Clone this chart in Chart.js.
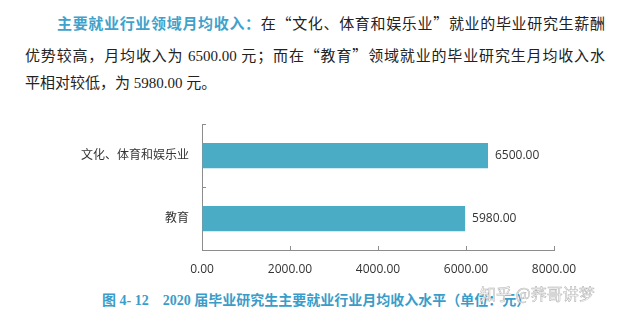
<!DOCTYPE html>
<html>
<head>
<meta charset="utf-8">
<script src="https://cdn.jsdelivr.net/npm/chart.js@4.4.0/dist/chart.umd.min.js"></script>
<style>
  body { margin: 0; width: 630px; height: 322px; background: #fff; position: relative; overflow: hidden; }
  .line { position: absolute; font-family: "Liberation Serif", "Noto Sans CJK SC", serif; font-size: 15px; color: #222; white-space: nowrap; line-height: 20px; }
  .just { text-align: justify; text-align-last: justify; }
  .hl { color: #3fa2cb; font-weight: bold; }
  .q { font-family: "Noto Sans CJK SC", sans-serif; }
  #caption { position: absolute; left: 102px; top: 291px; font-family: "Liberation Serif", "Noto Sans CJK SC", serif; font-size: 14px; font-weight: bold; color: #3a9dc9; white-space: nowrap; line-height: 20px; }
  #mark { position: absolute; left: 480px; top: 282px; font-family: "Noto Sans CJK SC", sans-serif; font-size: 16px; color: #fff; white-space: nowrap; line-height: 22px; -webkit-text-stroke: 0.5px #b0b0b0; }
  #wrap { position: absolute; left: 0; top: 100px; width: 630px; height: 185px; }
</style>
</head>
<body>
<div class="line just" style="left:57px; top:13px; width:548px;"><span class="hl">主要就业行业领域月均收入：</span>在<span class="q">“</span>文化、体育和娱乐业<span class="q">”</span>就业的毕业研究生薪酬</div>
<div class="line just" style="left:25px; top:45px; width:580px;">优势较高，月均收入为 6500.00 元；而在<span class="q">“</span>教育<span class="q">”</span>领域就业的毕业研究生月均收入水</div>
<div class="line" style="left:25px; top:73px;">平相对较低，为 5980.00 元。</div>

<div id="wrap"><canvas id="myChart"></canvas></div>

<div id="caption">图 4- 12&nbsp;&nbsp;&nbsp; 2020 届毕业研究生主要就业行业月均收入水平（单位：元）</div>
<div id="mark">知乎 @荞哥讲梦</div>

<script>
const categories = ['文化、体育和娱乐业', '教育'];
const incomeValues = [6500, 5980];
const xTickValues = [0, 2000, 4000, 6000, 8000];

const chartFont = { family: "'Open Sans', 'Noto Sans CJK SC', sans-serif", size: 12 };
const axisColor = '#8c8c8c';

// value labels at the end of each bar
const barLabels = {
  id: 'barLabels',
  afterDatasetsDraw(chart) {
    const c = chart.ctx;
    const meta = chart.getDatasetMeta(0);
    c.save();
    c.font = "12px 'Open Sans', sans-serif";
    c.fillStyle = '#333';
    c.textBaseline = 'middle';
    c.textAlign = 'left';
    meta.data.forEach((bar, i) => {
      c.fillText(incomeValues[i].toFixed(2), bar.x + 7, bar.y);
    });
    c.restore();
  }
};

const ctx = document.getElementById('myChart').getContext('2d');

const myChart = new Chart(ctx, {
  type: 'bar',
  data: {
    labels: categories,
    datasets: [{
      data: incomeValues,
      backgroundColor: '#4BACC6',
      borderWidth: 0,
      barPercentage: 0.4,
      categoryPercentage: 1
    }]
  },
  options: {
    indexAxis: 'y',
    responsive: true,
    maintainAspectRatio: false,
    animation: false,
    layout: { padding: { top: 12, right: 76, bottom: 0, left: 0 } },
    plugins: {
      legend: { display: false },
      tooltip: { enabled: false }
    },
    scales: {
      x: {
        min: 0,
        max: 8000,
        afterBuildTicks: (scale) => { scale.ticks = xTickValues.map(v => ({ value: v })); },
        afterFit: (scale) => { scale.height = 35; },
        border: { display: true, color: axisColor, width: 1 },
        grid: { drawOnChartArea: false, drawTicks: true, tickLength: -4, color: axisColor },
        ticks: {
          padding: 16,
          color: '#333',
          font: chartFont,
          maxRotation: 0,
          callback: (v) => Number(v).toFixed(2)
        }
      },
      y: {
        afterFit: (scale) => { scale.width = 202; },
        border: { display: true, color: axisColor, width: 1 },
        grid: { drawOnChartArea: false, drawTicks: true, tickLength: -4, color: axisColor, offset: true },
        ticks: { padding: 17, color: '#333', font: chartFont }
      }
    }
  },
  plugins: [barLabels]
});
</script>
</body>
</html>
